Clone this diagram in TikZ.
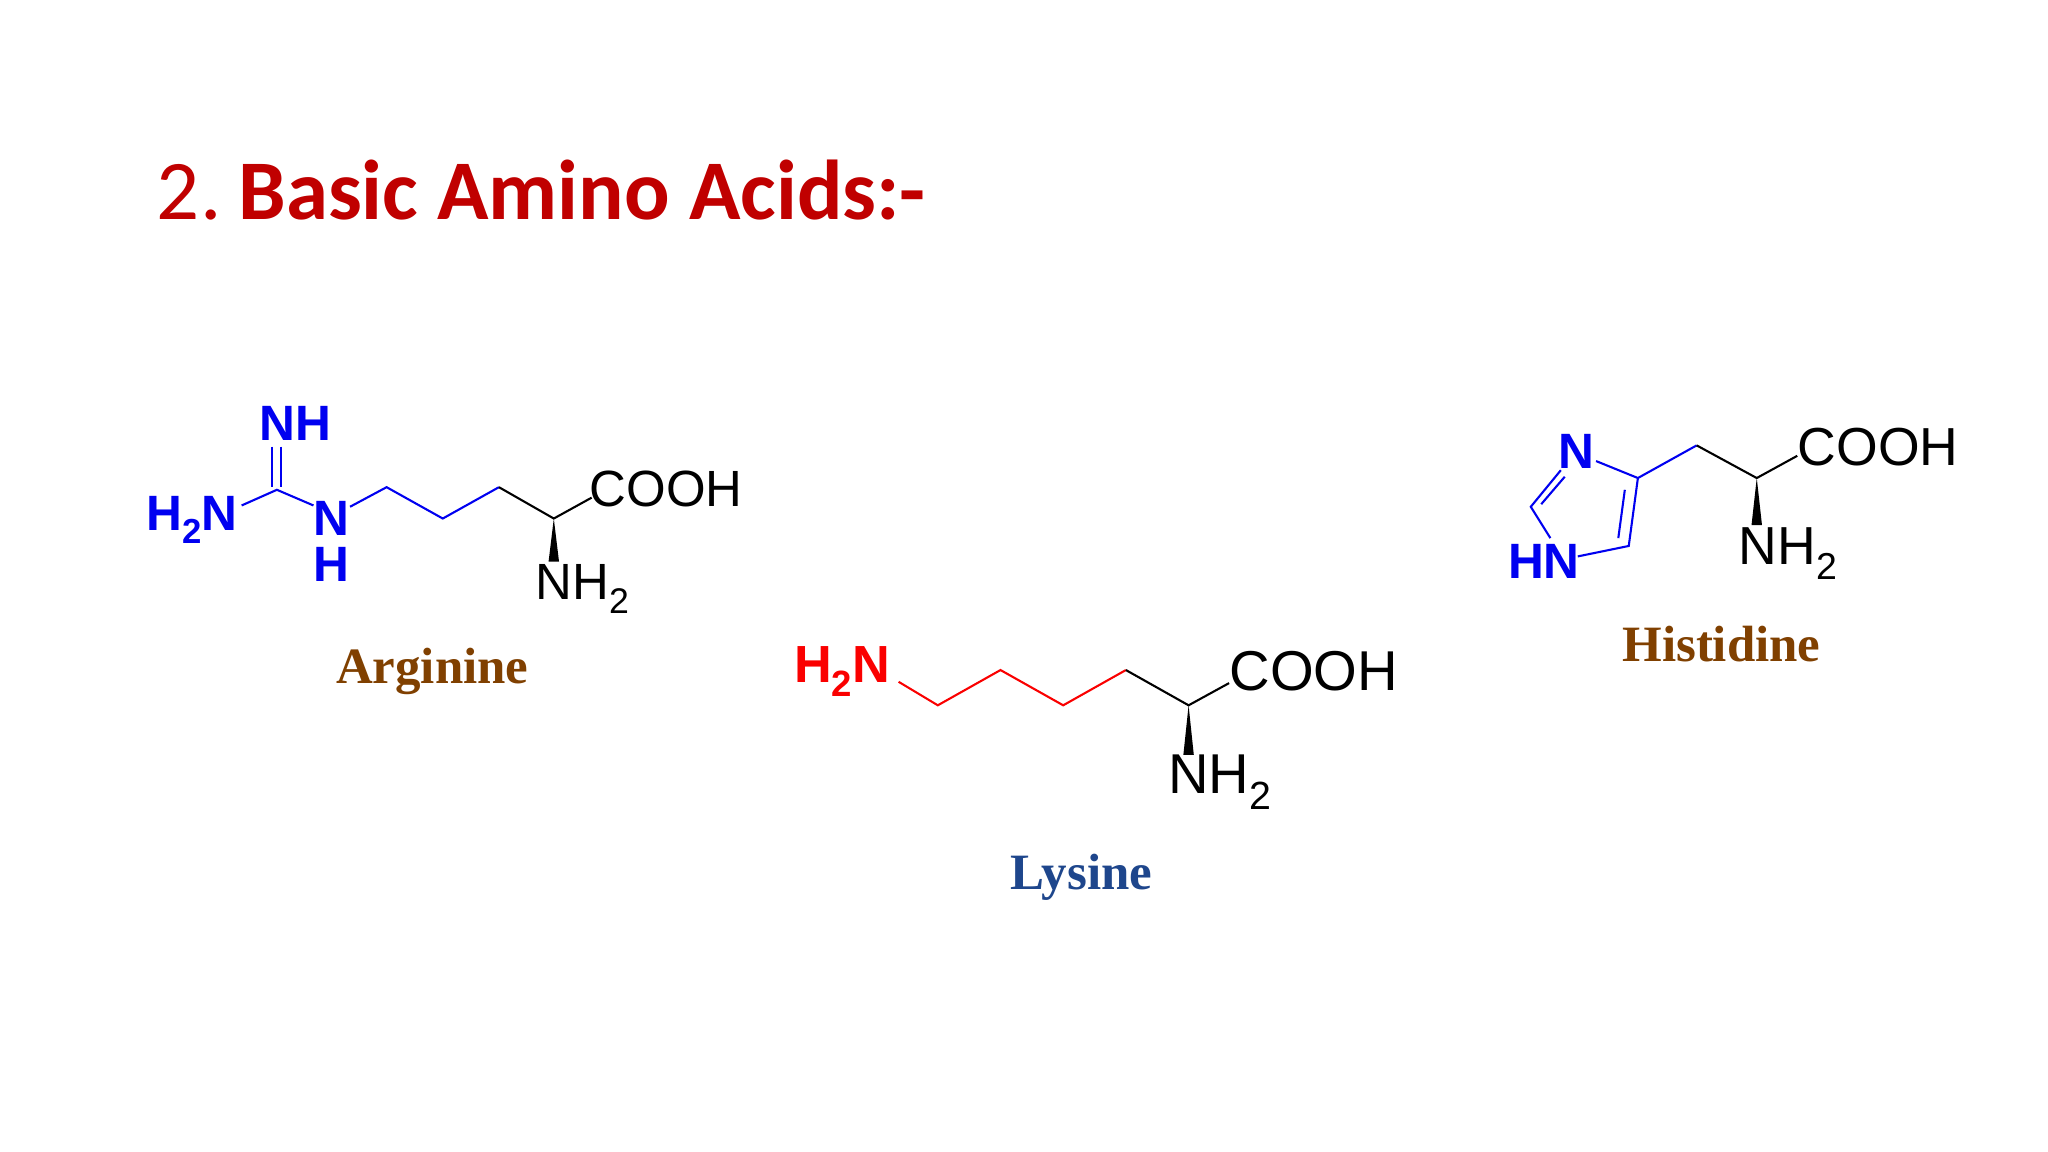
\documentclass[tikz,border=0pt]{standalone}
\usepackage{fontspec}
\setmainfont{Liberation Sans}
\newfontfamily\titlefont{Carlito}
\newfontfamily\serifname{Liberation Serif}
\definecolor{tred}{RGB}{192,0,0}
\definecolor{cblue}{RGB}{0,0,240}
\definecolor{cred}{RGB}{250,0,0}
\definecolor{brn}{RGB}{128,64,0}
\definecolor{lblue}{RGB}{30,70,140}
\begin{document}
\begin{tikzpicture}[x=1pt,y=-1pt,
  atom/.style={inner sep=0pt,font=\fontsize{43}{44}\selectfont},
  satom/.style={inner sep=0pt,font=\fontsize{39}{40}\selectfont},
  matom/.style={inner sep=0pt,font=\fontsize{41}{42}\selectfont},
  batom/.style={atom,font=\fontsize{38}{40}\selectfont\bfseries,text=cblue},
  ratom/.style={atom,font=\fontsize{40}{40}\selectfont\bfseries,text=cred},
  aaname/.style={inner sep=0pt,font=\fontsize{39}{40}\selectfont\serifname\bfseries},
  bb/.style={cblue,line width=1.6pt},
  rb/.style={cred,line width=1.6pt},
  kb/.style={black,line width=1.6pt}]
\useasboundingbox (0,0) rectangle (1568,882);
\fill[white] (0,0) rectangle (1568,882);
\node[anchor=base west,inner sep=0pt,text=tred,font=\fontsize{65}{66}\selectfont\titlefont] (title) at (120,168) {2.\hspace{0.2em}\textbf{Basic Amino Acids:-}};
% Arginine
\node[batom] (anh) at (226,324) {NH};
\node[batom] (ah2n) at (147,398) {H\textsubscript{2}N};
\node[batom] (an) at (254,397) {N};
\node[batom] (ah) at (254,432) {H};
\node[satom] (acooh) at (510,374) {COOH};
\node[satom] (anh2) at (446,451) {NH\textsubscript{2}};
\coordinate (ac) at (212,375);
\coordinate (a1) at (296,373);
\coordinate (a2) at (339,397);
\coordinate (a3) at (382,373);
\coordinate (aca) at (424,397);
\draw[bb] (208,342) -- (208,373) (215,342) -- (215,373);
\draw[bb] (185,387) -- (ac) -- (240,387);
\draw[bb] (268,388) -- (a1) -- (a2) -- (a3);
\draw[kb] (a3) -- (aca) -- (453,381);
\fill (aca) -- (428,430) -- (420,430) -- cycle;
\node[aaname,text=brn] (argn) at (331,514) {Arginine};
% Lysine
\node[ratom] (lh2n) at (645,514) {H\textsubscript{2}N};
\node[atom] (lcooh) at (1006,514) {COOH};
\node[atom] (lnh2) at (934,599) {NH\textsubscript{2}};
\coordinate (l1) at (718,540);
\coordinate (l2) at (766,513);
\coordinate (l3) at (814,540);
\coordinate (l4) at (862,513);
\coordinate (lca) at (910,540);
\draw[rb] (688,522) -- (l1) -- (l2) -- (l3) -- (l4);
\draw[kb] (l4) -- (lca) -- (941,523);
\fill (lca) -- (914,578) -- (906,578) -- cycle;
\node[aaname,text=lblue] (lysn) at (828,672) {Lysine};
% Histidine
\node[batom] (hn) at (1207,346) {N};
\node[batom] (hhn) at (1182,430) {HN};
\node[matom] (hcooh) at (1438,342) {COOH};
\node[matom] (hnh2) at (1369,424) {NH\textsubscript{2}};
\coordinate (c4) at (1254,366);
\coordinate (c5) at (1247,418);
\coordinate (c2) at (1172,388);
\coordinate (hb) at (1299,341);
\coordinate (hca) at (1345,366);
\draw[bb] (1222,353) -- (c4) -- (c5) -- (1208,426);
\draw[bb] (1244,375) -- (1239,412);
\draw[bb] (1187,412) -- (c2) -- (1195,360);
\draw[bb] (1180,386) -- (1198,365);
\draw[bb] (c4) -- (hb);
\draw[kb] (hb) -- (hca) -- (1376,349);
\fill (hca) -- (1349,402) -- (1341,402) -- cycle;
\node[aaname,text=brn] (hisn) at (1318,493) {Histidine};
\end{tikzpicture}
\end{document}
